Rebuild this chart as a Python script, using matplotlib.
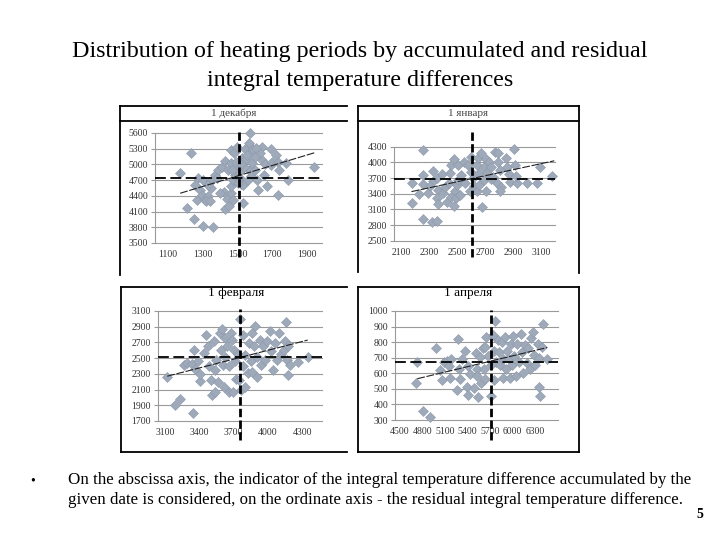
import numpy as np
import matplotlib
matplotlib.use("Agg")
import matplotlib.pyplot as plt
from matplotlib.lines import Line2D

plt.rcParams['font.family'] = ['Liberation Serif', 'DejaVu Serif']

W, H = 720, 540

# --- data ---
title_text = "Distribution of heating periods by accumulated and residual\nintegral temperature differences"
note_text = ("On the abscissa axis, the indicator of the integral temperature difference accumulated by the\n"
             "given date is considered, on the ordinate axis - the residual integral temperature difference.")
page_no = "5"

panel_names = ["1 декабря", "1 января", "1 февраля", "1 апреля"]

dec_x = [1170, 1230, 1210, 1250, 1300, 1360, 1270, 1255, 1283, 1265, 1295, 1310, 1330, 1300, 1350, 1370,
         1350, 1320, 1340, 1390, 1410, 1430, 1460, 1465, 1445, 1420, 1440, 1430, 1450, 1465, 1475, 1460,
         1475, 1485, 1480, 1495, 1505, 1525, 1515, 1520, 1530, 1530, 1545, 1550, 1565, 1575, 1565, 1580,
         1570, 1585, 1600, 1590, 1610, 1620, 1640, 1640, 1660, 1650, 1670, 1630, 1690, 1690, 1700, 1720,
         1735, 1740, 1735, 1780, 1790, 1940, 1605, 1490, 1510, 1540, 1555, 1500, 1470, 1520, 1560, 1600,
         1380, 1400, 1330]
dec_y = [4830, 5220, 4160, 3960, 3820, 3800, 4750, 4610, 4520, 4330, 4420, 4320, 4390, 4700, 4680, 4800,
         4550, 4300, 4300, 4900, 4960, 5070, 5030, 5280, 4900, 4470, 4340, 4140, 4200, 4450, 4330, 4590,
         4700, 4800, 5220, 5340, 4960, 5120, 4750, 4620, 4600, 4260, 5290, 5100, 4900, 4780, 5410, 5230,
         5600, 5030, 4890, 5300, 4700, 4520, 5330, 5080, 5000, 4800, 4580, 5220, 5300, 4980, 5050, 5180,
         5050, 4900, 4420, 5020, 4700, 4960, 5320, 5050, 4850, 4950, 5180, 4650, 4900, 5000, 4700, 5150,
         4750, 4450, 4600]

jan_x = [2170, 2175, 2250, 2225, 2250, 2250, 2255, 2315, 2355, 2285, 2325, 2325, 2300, 2350, 2360, 2355,
         2360, 2390, 2395, 2420, 2410, 2440, 2445, 2455, 2455, 2475, 2480, 2485, 2475, 2495, 2505, 2500,
         2515, 2525, 2545, 2550, 2575, 2590, 2595, 2595, 2610, 2615, 2635, 2645, 2635, 2650, 2655, 2665,
         2675, 2685, 2690, 2700, 2705, 2710, 2725, 2735, 2740, 2755, 2765, 2785, 2780, 2790, 2805, 2810,
         2805, 2845, 2855, 2865, 2875, 2900, 2910, 2920, 2915, 2995, 3065, 3085, 3170]
jan_y = [3600, 3215, 4235, 3395, 3580, 3760, 2910, 2865, 2880, 3405, 3645, 3840, 3545, 3705, 3470, 3325,
         3205, 3775, 3405, 3245, 3520, 3610, 3800, 3950, 3345, 3165, 3460, 3310, 4060, 3565, 3950, 3660,
         3375, 3760, 4015, 3600, 3950, 3460, 4095, 3820, 3695, 3545, 3950, 4075, 3460, 3790, 3565, 4170,
         3140, 3915, 3660, 4060, 3460, 3790, 4015, 3675, 3915, 3725, 4205, 4170, 3600, 4015, 3855, 3535,
         3460, 4075, 3915, 3775, 3630, 4250, 3950, 3600, 3740, 3600, 3600, 3915, 3740]

feb_x = [3120, 3190, 3235, 3345, 3265, 3295, 3335, 3355, 3360, 3390, 3405, 3410, 3445, 3455, 3480, 3485,
         3505, 3510, 3535, 3530, 3550, 3540, 3565, 3580, 3590, 3600, 3610, 3620, 3625, 3630, 3645, 3660,
         3665, 3680, 3690, 3695, 3705, 3710, 3720, 3740, 3745, 3755, 3765, 3780, 3785, 3800, 3805, 3825,
         3835, 3855, 3860, 3865, 3880, 3890, 3905, 3910, 3930, 3945, 3960, 3975, 3990, 4020, 4030, 4050,
         4065, 4080, 4100, 4115, 4140, 4155, 4160, 4165, 4175, 4180, 4195, 4265, 4350]
feb_y = [2255, 1910, 1975, 1805, 2415, 2435, 2425, 2600, 2360, 2460, 2215, 2300, 2565, 2800, 2650, 2395,
         2225, 2030, 2075, 2715, 2480, 2350, 2200, 2820, 2600, 2875, 2415, 2135, 2760, 2515, 2650, 2395,
         2075, 2815, 2735, 2075, 2610, 2460, 2230, 2555, 2225, 2995, 2095, 2400, 2800, 2545, 2135, 2310,
         2695, 2460, 2820, 2330, 2650, 2910, 2520, 2265, 2735, 2415, 2650, 2480, 2715, 2845, 2585, 2350,
         2695, 2480, 2820, 2555, 2610, 2715, 2960, 2480, 2285, 2650, 2415, 2445, 2515]

apr_x = [4730, 4715, 4810, 4895, 4980, 5030, 5065, 5085, 5125, 5150, 5170, 5180, 5270, 5260, 5290, 5305,
         5325, 5365, 5390, 5400, 5410, 5435, 5485, 5510, 5520, 5530, 5545, 5565, 5580, 5605, 5615, 5630,
         5640, 5650, 5675, 5710, 5710, 5740, 5750, 5760, 5770, 5785, 5805, 5820, 5835, 5855, 5870, 5880,
         5900, 5915, 5930, 5950, 5965, 5980, 6000, 6010, 6025, 6045, 6060, 6085, 6110, 6130, 6145, 6170,
         6190, 6205, 6230, 6250, 6275, 6285, 6300, 6335, 6350, 6360, 6370, 6395, 6410, 6460]
apr_y = [675, 535, 360, 320, 760, 620, 555, 675, 680, 645, 570, 690, 820, 490, 630, 565,
         690, 745, 510, 460, 650, 595, 505, 730, 630, 580, 445, 705, 540, 760, 625, 565,
         770, 835, 710, 655, 455, 845, 560, 745, 935, 675, 815, 735, 655, 800, 570, 690,
         830, 625, 745, 690, 570, 790, 655, 840, 710, 580, 785, 675, 855, 735, 600, 780,
         665, 760, 630, 825, 865, 720, 655, 790, 695, 510, 455, 770, 915, 690]

# mean lines (x, y) and trend line end points
mean_x = [1510, 2600, 3760, 5710]
mean_y = [4750, 3680, 2510, 675]
trend_x = [(1170, 1950), (2170, 3190), (3120, 4350), (4730, 6460)]
trend_y = [(4450, 5230), (3440, 4030), (2270, 2730), (565, 765)]

xticks = [range(1100, 2000, 200), range(2100, 3200, 200), range(3100, 4400, 300), range(4500, 6400, 300)]
yticks = [range(3500, 5700, 300), range(2500, 4400, 300), range(1700, 3200, 200), range(300, 1100, 100)]

# layout in pixels: axes box (left, right, top, bottom), xlim, extent of the vertical mean line
boxes = [(155, 322, 133, 243), (394, 555, 146.7, 240.7), (158, 322, 311, 421), (395, 558, 311, 420)]
xlims = [(1025, 1986), (2045, 3195), (3039, 4475), (4433, 6607)]
vspan = [(-0.13, 1.01), (-0.17, 1.16), (-0.17, 1.02), (-0.18, 1.01)]
title_pos = [(234, 113, 8, '#444444'), (468, 113, 8, '#444444'), (236, 293, 9.5, 'black'), (468, 293, 9.5, 'black')]

xs = [dec_x, jan_x, feb_x, apr_x]
ys = [dec_y, jan_y, feb_y, apr_y]

fig = plt.figure(figsize=(W / 100, H / 100), dpi=100)


def fline(x0, y0, x1, y1, lw=1.3):
    fig.add_artist(Line2D([x0 / W, x1 / W], [1 - y0 / H, 1 - y1 / H], transform=fig.transFigure,
                          color='black', lw=lw))


# panel frames
fline(120, 106, 347, 106); fline(120, 121, 347, 121); fline(120, 106, 120, 275)
fline(358, 106, 579, 106); fline(358, 121, 579, 121); fline(358, 106, 358, 272); fline(579, 106, 579, 273)
fline(121, 287, 347, 287); fline(121, 287, 121, 452); fline(121, 452, 347, 452)
fline(358, 287, 579, 287); fline(358, 287, 358, 452); fline(579, 287, 579, 452); fline(358, 452, 579, 452)

for i in range(4):
    l, r, t, b = boxes[i]
    ax = fig.add_axes([l / W, 1 - b / H, (r - l) / W, (b - t) / H])
    yt = list(yticks[i])
    ax.set_xlim(*xlims[i])
    ax.set_ylim(yt[0], yt[-1])
    ax.set_xticks(list(xticks[i]))
    ax.set_yticks(yt)
    for v in yt:
        ax.axhline(v, color='#9a9a9a', lw=0.8, zorder=1, clip_on=False)
    for s in ['top', 'right', 'bottom']:
        ax.spines[s].set_visible(False)
    ax.spines['left'].set_color('#9a9a9a')
    ax.spines['left'].set_linewidth(0.8)
    ax.tick_params(axis='y', length=3, color='#9a9a9a', labelsize=7, pad=2, labelcolor='#333333')
    ax.tick_params(axis='x', length=0, labelsize=7, pad=5, labelcolor='#333333')
    ax.patch.set_alpha(0)

    ax.scatter(xs[i], ys[i], marker='D', s=26, color='#9ea9ba', edgecolors='#8d99ab',
               linewidths=0.4, zorder=3, clip_on=False)
    ax.plot(trend_x[i], trend_y[i], color='#222222', lw=0.8, dashes=(7, 1.5), zorder=4)
    ax.axhline(mean_y[i], color='black', lw=1.3, dashes=(6, 2.5), zorder=5, clip_on=False)
    ax.axvline(mean_x[i], ymin=vspan[i][0], ymax=vspan[i][1], color='black', lw=2.0, dashes=(3, 1.2),
               zorder=5, clip_on=False)

    tx, ty, fs, col = title_pos[i]
    fig.text(tx / W, 1 - ty / H, panel_names[i], ha='center', va='center', fontsize=fs, color=col)

fig.text(360 / W, 1 - 66 / H, title_text, ha='center', va='center', fontsize=17.3, linespacing=1.45)
fig.text(30 / W, 1 - 481 / H, "•", ha='left', va='center', fontsize=10)
fig.text(68 / W, 1 - 490 / H, note_text, ha='left', va='center', fontsize=12.2, linespacing=1.25)
fig.text(700 / W, 1 - 515 / H, page_no, ha='center', va='center', fontsize=10, fontweight='bold')

fig.savefig("out.png", dpi=100)
